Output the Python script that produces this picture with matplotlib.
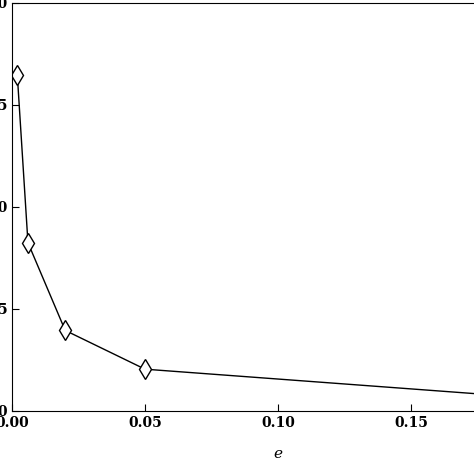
import matplotlib
matplotlib.use("Agg")
import matplotlib.pyplot as plt

e_vals = [0.002, 0.006, 0.02, 0.05, 0.2]
y_vals = [16.45, 8.25, 3.95, 2.05, 0.6]
xticks = [0.0, 0.05, 0.10, 0.15, 0.20]
xticklabels = ["0.00", "0.05", "0.10", "0.15", "0.20"]
yticks = [0, 5, 10, 15, 20]

plt.rcParams['font.family'] = ['DejaVu Serif']
fig = plt.figure(figsize=(4.74, 4.74), dpi=100)
ax = fig.add_axes([12/474, 63/474, 532/474, 408/474])
ax.plot(e_vals, y_vals, color='black', lw=1.0, marker='d', markersize=10,
        markerfacecolor='white', markeredgecolor='black', markeredgewidth=1.0)
ax.set_xlim(0, 0.2)
ax.set_ylim(0, 20)
ax.set_xticks(xticks)
ax.set_xticklabels(xticklabels, fontweight='bold', fontsize=10)
ax.set_yticks(yticks)
ax.set_yticklabels([str(t) for t in yticks], fontweight='bold', fontsize=10)
ax.tick_params(direction='in', length=5)
ax.set_xlabel('e', style='italic', fontsize=11, labelpad=12)
fig.savefig('out.png', dpi=100)
